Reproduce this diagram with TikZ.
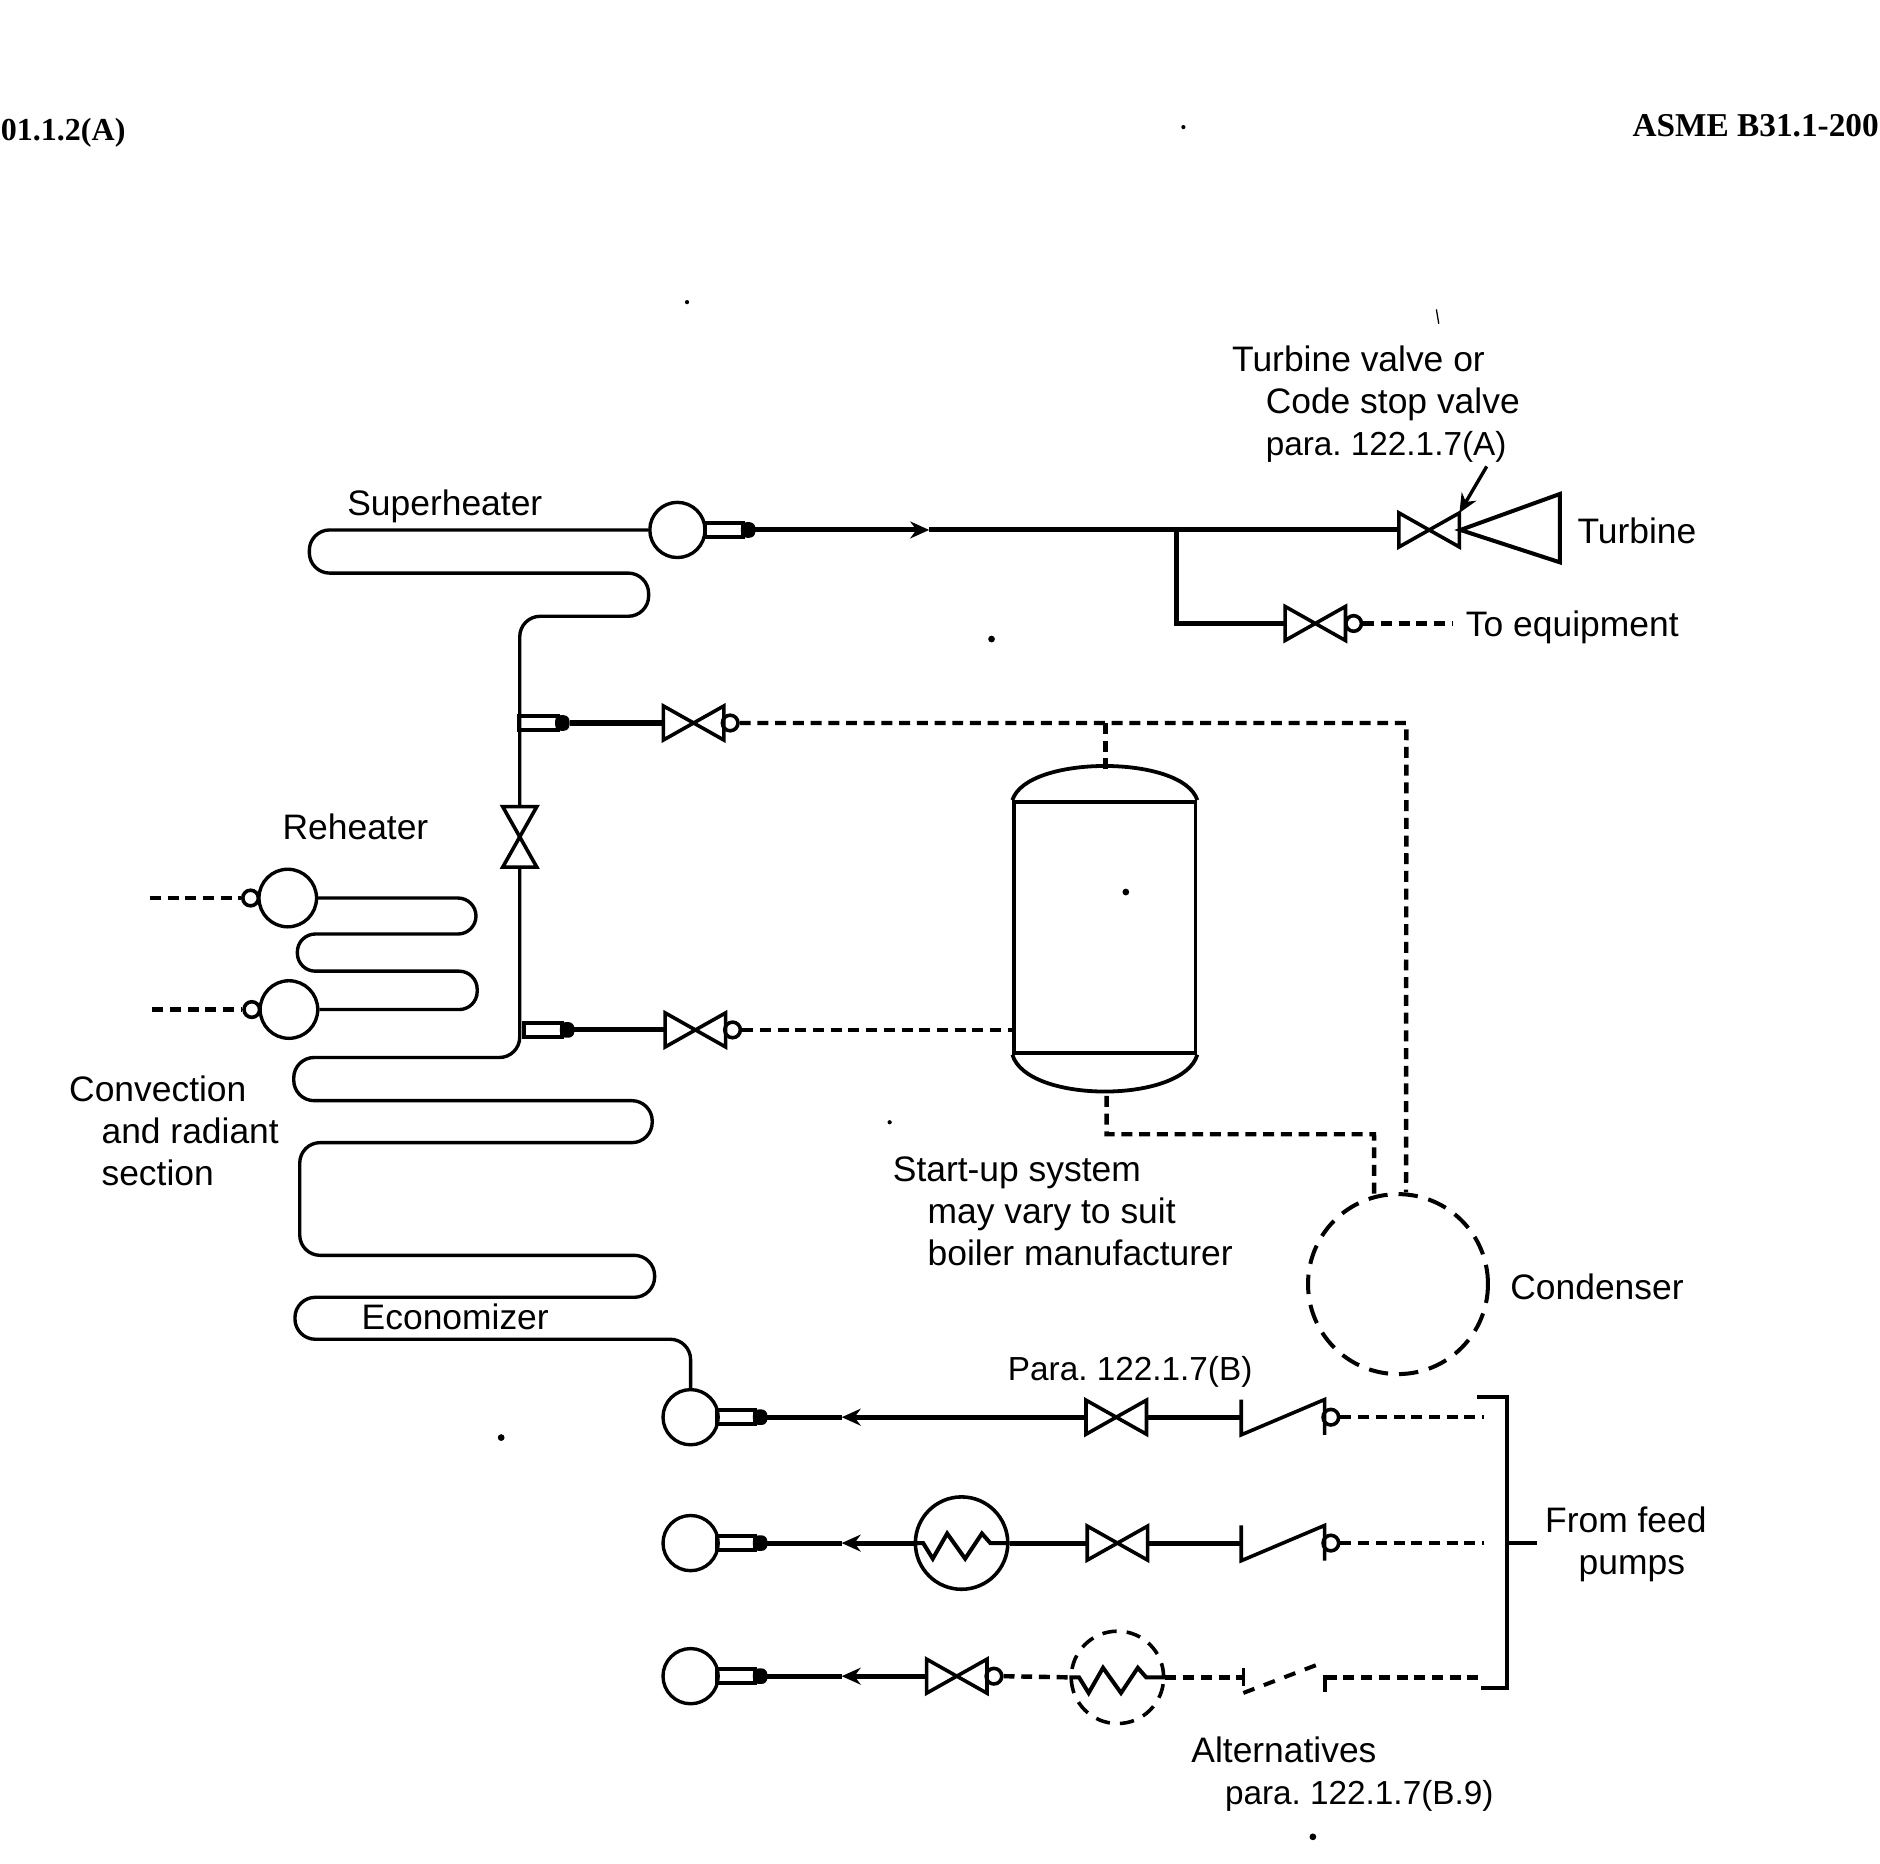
\documentclass[tikz,border=0pt]{standalone}
\usepackage{fontspec}
\setmainfont{Liberation Sans}
\newfontfamily\headfont{Liberation Serif}
\usetikzlibrary{arrows.meta}

\tikzset{%
tube/.style={line width=0.8pt},
flow/.style={line width=1.2pt},
feed/.style={line width=1.05pt,dash pattern=on 2.6pt off 1.6pt},
every node/.style={inner sep=0pt,font=\fontsize{8.4}{9.95}\selectfont\frenchspacing},
note/.style={anchor=west,align=left},
header/.style={circle,draw,line width=0.8pt,minimum size=0.46cm},
gland/.style={circle,draw,line width=0.85pt,minimum size=0.13cm},
valvebox/.style={minimum width=0.49cm,minimum height=0.27cm},
checkbox/.style={minimum width=0.68cm,minimum height=0.28cm},
stubbox/.style={draw,line width=0.95pt,outer sep=0pt,minimum width=0.32cm,minimum height=0.12cm},
stubend/.style={fill,outer sep=0pt,rounded corners=1.4pt,minimum width=0.12cm,minimum height=0.13cm},
heater/.style={circle,line width=0.85pt,minimum size=0.77cm},
>={Stealth[length=4.5pt,width=4pt]},
}

\newcommand{\valvex}[3][]{\node[valvebox,#1] (#2) at (#3) {};
\draw[line width=0.85pt] (#2.south west) -- (#2.north east) -- (#2.south east) -- (#2.north west) -- cycle;}
\newcommand{\stubx}[2]{\node[stubbox] (#1) at (#2) {};
\node[stubend,anchor=west] (#1e) at ([xshift=-0.02cm]#1.east) {};}
\newcommand{\checkx}[2]{\node[checkbox] (#1) at (#2) {};
\draw[line width=0.85pt] (#1.north west) -- (#1.south west) -- (#1.north east) -- (#1.south east);}
\newcommand{\paratext}[1]{{\fontsize{7.9}{9.95}\selectfont #1}}

\begin{document}
\begin{tikzpicture}[%
x=0.01cm,y=-0.01cm,
]
\useasboundingbox (0,-1) rectangle (1568,1553.6);
%% page head;
\node[anchor=west,font=\headfont\bfseries\fontsize{7.6}{10}\selectfont] (hleft) at (0,110) {01.1.2(A)};
\node[anchor=west,font=\headfont\bfseries\fontsize{7.9}{10}\selectfont] (hright) at (1361,104) {ASME B31.1-200};
%% superheater outlet;
\node[header] (shdr) at (565,441) {};
\stubx{sstub}{604,441}
\coordinate (sarrow) at (775,441);
\coordinate (stee) at (981,441);
\valvex{mv}{1192,441}
\draw[flow,->] (sstube.east) -- (sarrow);
\draw[flow] (sarrow) -- (stee) -- (mv.west);
\draw[line width=0.95pt] (1218,441) -- (1301,411) -- (1301,468) -- cycle;
\valvex{ev}{1097,519}
\node[gland] (eg) at (1129,519) {};
\coordinate (eend) at (1212,519);
\draw[flow] (stee) |- (ev.west);
\draw[feed] (eg.east) -- (eend);
\coordinate (mvnote) at (1240,388);
\draw[tube,->] (mvnote) -- (mv.north east);
%% superheater tube;
\valvex[rotate=90]{sv}{433.5,697}
\draw[tube,rounded corners=0.17cm] (shdr.west) -- (258,441) -- (258,477) -- (541,477) -- (541,513) -- (433.5,513) -- (sv.east);
\draw[tube,rounded corners=0.17cm] (sv.west) -- (433.5,881) -- (245,881) -- (245,917) -- (544,917) -- (544,952) -- (250,952) -- (250,1046) -- (546,1046) -- (546,1081) -- (246,1081) -- (246,1116) -- (576,1116) -- (576,1158);
%% start-up valves;
\stubx{tstub}{449,602}
\valvex{tv}{578.5,602}
\node[gland] (tg) at (609,602) {};
\draw[flow] (tstube.east) -- (tv.west);
\stubx{lstub}{453,858}
\valvex{lv}{580,858}
\node[gland] (lg) at (611,858) {};
\draw[flow] (lstube.east) -- (lv.west);
%% vessel;
\node[draw,line width=0.9pt,minimum width=1.51cm,minimum height=2.09cm] (vessel) at (921.5,772.5) {};
\draw[line width=0.9pt] (vessel.north west) .. controls +(12,-38) and +(-12,-38) .. (vessel.north east);
\draw[line width=0.9pt] (vessel.south west) .. controls +(12,41) and +(-12,41) .. (vessel.south east);
\coordinate (vtop) at (922,640);
\coordinate (vside) at (847,858);
\coordinate (vbot) at (923,913);
\coordinate (dtee) at (922,602);
%% condenser;
\node[circle,draw,line width=0.95pt,dash pattern=on 4.6pt off 2.6pt,minimum size=1.5cm] (cond) at (1166,1070) {};
\draw[feed] (tg.east) -- (dtee) -- (1173,602) -- (cond.85);
\draw[feed] (dtee) -- (vtop);
\draw[feed] (lg.east) -- (vside);
\draw[feed] (vbot) -- (923,945) -- (1146,945) -- (cond.105);
%% reheater;
\node[header,minimum size=0.48cm] (rh1) at (240,748) {};
\node[gland] (rg1) at (209,748) {};
\coordinate (re1) at (125,748);
\node[header,minimum size=0.48cm] (rh2) at (241,841) {};
\node[gland] (rg2) at (210,841) {};
\coordinate (re2) at (127,841);
\draw[feed] (re1) -- (rg1.west);
\draw[feed] (re2) -- (rg2.west);
\draw[tube,rounded corners=0.15cm] (rh1.east) -- (397,748) -- (397,778) -- (248,778) -- (248,809) -- (398,809) -- (398,841) -- (rh2.east);
%% feed row 1;
\node[header] (f1) at (576,1181) {};
\stubx{fstuba}{614,1181}
\coordinate (farrowa) at (702,1181);
\valvex{fva}{931,1181}
\checkx{ca}{1070,1181}
\node[gland] (ga) at (1110,1181) {};
\coordinate (fea) at (1238,1181);
\draw[flow,->] (fva.west) -- (farrowa);
\draw[flow] (farrowa) -- (fstubae.east);
\draw[flow] (fva.east) -- (ca.west);
\draw[feed] (ga.east) -- (fea);
%% feed row 2;
\node[header] (f2) at (576,1286) {};
\stubx{fstubb}{614,1286}
\coordinate (farrowb) at (702,1286);
\node[heater,draw] (hb) at (802,1286) {};
\valvex{fvb}{932,1286}
\checkx{cb}{1070,1286}
\node[gland] (gb) at (1110,1286) {};
\coordinate (feb) at (1238,1286);
\draw[flow,->] (hb.west) -- (farrowb);
\draw[flow] (farrowb) -- (fstubbe.east);
\draw[flow] (fvb.west) -- (hb.east);
\draw[flow] (fvb.east) -- (cb.west);
\draw[line width=0.95pt] (hb.west) -- ++(8,0) -- ++(8,13) -- ++(12,-21) -- ++(15,21) -- ++(14,-21) -- ++(7,8) -- (hb.east);
\draw[feed] (gb.east) -- (feb);
%% feed row 3;
\node[header] (f3) at (576,1397) {};
\stubx{fstubc}{614,1397}
\coordinate (farrowc) at (702,1397);
\valvex{fvc}{798,1397}
\node[gland] (gc) at (829,1397) {};
\node[heater,draw,dash pattern=on 3.4pt off 2.4pt] (hc) at (932,1398) {};
\node[checkbox] (cc) at (1071,1398) {};
\coordinate (fec) at (1238,1398);
\draw[flow,->] (fvc.west) -- (farrowc);
\draw[flow] (farrowc) -- (fstubce.east);
\draw[feed] (gc.east) -- (hc.west);
\draw[line width=0.95pt] (hc.west) -- ++(8,0) -- ++(8,13) -- ++(12,-21) -- ++(15,21) -- ++(14,-21) -- ++(7,8) -- (hc.east);
\draw[feed] (hc.east) -- (cc.west);
\draw[feed] (cc.east) -- (fec);
\draw[line width=0.85pt] (1037,1390) -- (1037,1405);
\draw[line width=0.85pt] (1105,1396) -- (1105,1410);
\draw[line width=0.95pt,dash pattern=on 2.8pt off 2.4pt] (1037,1411) -- (1105,1385);
%% bracket;
\coordinate (btee) at (1257,1286);
\coordinate (bend) at (1282,1286);
\draw[line width=0.9pt] (1232,1164) -- (1257,1164) -- (1257,1407) -- (1235,1407);
\draw[line width=0.9pt] (btee) -- (bend);
%% label;
\node[note] (lmv) at (1027,336) {Turbine valve or\\\hspace*{0.28cm}Code stop valve\\\hspace*{0.28cm}\paratext{para. 122.1.7(A)}};
\node[note] (lturb) at (1315,442) {Turbine};
\node[note] (leq) at (1222,522) {To equipment};
\node[note] (lsh) at (289,421) {Superheater};
\node[note] (lrh) at (235,689) {Reheater};
\node[note] (lcv) at (57,942) {Convection\\\hspace*{0.27cm}and radiant\\\hspace*{0.27cm}section};
\node[note] (lsu) at (744,1009) {Start-up system\\\hspace*{0.29cm}may vary to suit\\\hspace*{0.29cm}boiler manufacturer};
\node[note] (leco) at (301,1097) {Economizer};
\node[note] (lcon) at (1259,1072) {Condenser};
\node[note] (lpb) at (840,1143) {\paratext{Para. 122.1.7(B)}};
\node[note] (lff) at (1288,1287) {From feed\\\hspace*{0.28cm}pumps};
\node[note] (lalt) at (993,1479) {Alternatives\\\hspace*{0.28cm}\paratext{para. 122.1.7(B.9)}};
%% specks;
\fill (987,105) circle (0.5pt);
\fill (573,251) circle (0.5pt);
\draw[line width=0.3pt] (1198,257) -- (1200,269);
\fill (827,532) circle (0.8pt);
\fill (939,743) circle (0.8pt);
\fill (742,935) circle (0.5pt);
\fill (418,1198) circle (0.8pt);
\fill (1095,1531) circle (0.8pt);
\end{tikzpicture}
\end{document}
